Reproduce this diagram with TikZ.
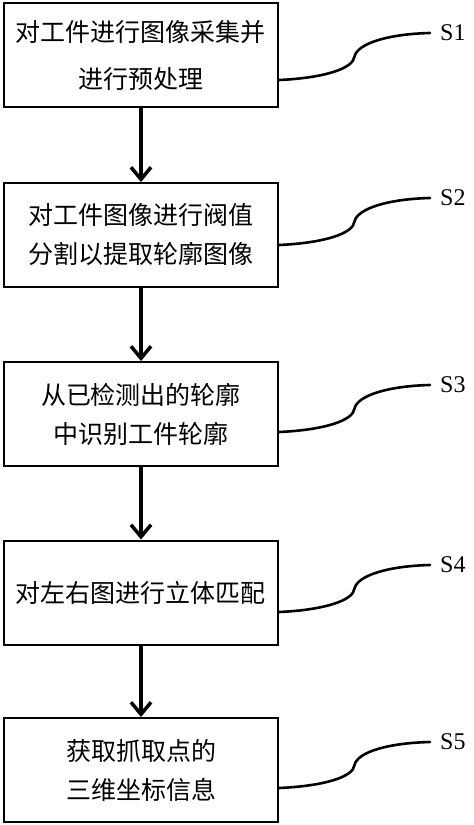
\documentclass[tikz,border=0pt]{standalone}
\usepackage{fontspec}
\setmainfont{Liberation Serif}
\newfontfamily\cjk{Noto Sans CJK SC}
\usetikzlibrary{arrows.meta,calc}
\begin{document}
\begin{tikzpicture}[x=1pt,y=-1pt,
  stepbox/.style={draw,line width=2pt,minimum width=274pt,minimum height=104pt,
    inner sep=0pt,align=center,font=\cjk\fontsize{25}{39}\selectfont},
  flow/.style={line width=3.5pt,-{Straight Barb[length=12pt,width=20pt,line width=3.5pt]}},
  leader/.style={line width=2.6pt,line cap=round},
  tag/.style={anchor=west,font=\fontsize{24}{24}\selectfont,inner sep=0pt}]
\useasboundingbox (0,0) rectangle (474,825);
\node[stepbox] (b1) at (141,55) {对工件进行图像采集并\\[8pt]进行预处理};
\node[stepbox] (b2) at (141,235) {对工件图像进行阀值\\分割以提取轮廓图像};
\node[stepbox] (b3) at (141,414) {从已检测出的轮廓\\中识别工件轮廓};
\node[stepbox] (b4) at (141,592.5) {对左右图进行立体匹配};
\node[stepbox] (b5) at (141,770) {获取抓取点的\\三维坐标信息};
\draw[flow] (b1) -- (b2);
\draw[flow] (b2) -- (b3);
\draw[flow] (b3) -- (b4);
\draw[flow] (b4) -- (b5);
\foreach \i/\sy/\ty in {1/80/33,2/245/198,3/432/385,4/612/565,5/788/742}{
  \coordinate (y\i) at (0,\sy);
  \coordinate (s\i) at (b\i.east |- y\i);
  \node[tag] (t\i) at (440,\ty) {S\i};
  \coordinate (e\i) at ($(t\i.west)+(-10,0)$);
  \coordinate (m\i) at ($(s\i)!0.5!(e\i)$);
  \draw[leader] (s\i) .. controls ($(s\i)+(45,-2)$) and ($(m\i)+(-1,12)$) .. (m\i)
     .. controls ($(m\i)+(3,-13)$) and ($(e\i)+(-42,1)$) .. (e\i);
}
\end{tikzpicture}
\end{document}
